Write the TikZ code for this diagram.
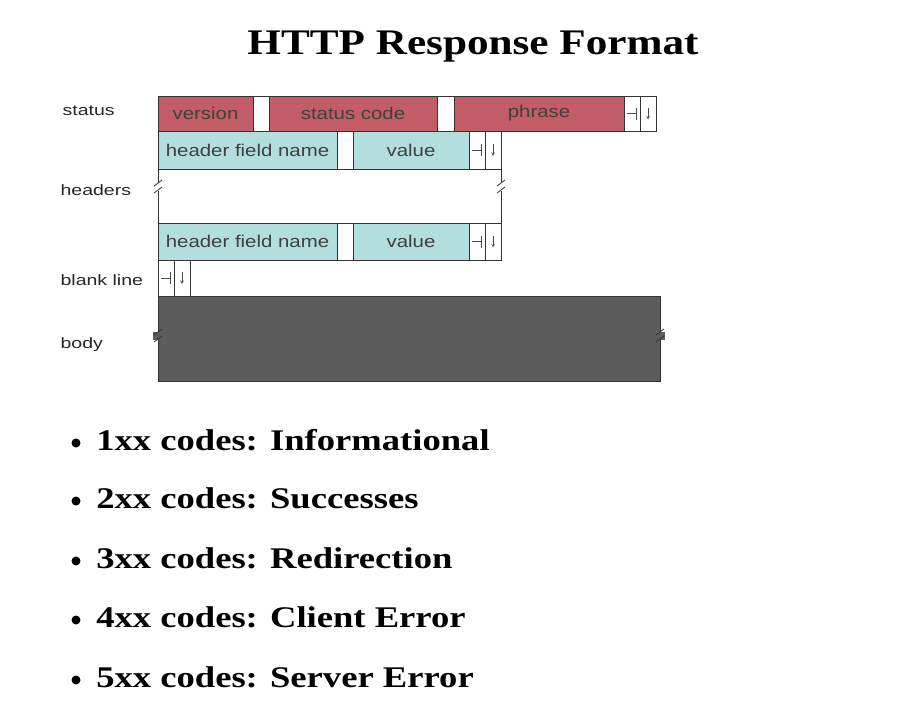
\documentclass[tikz,border=0pt]{standalone}
\usepackage{fontspec}
\setmainfont{Liberation Serif}
\setsansfont{Liberation Sans}
\begin{document}
\begin{tikzpicture}[x=1pt,y=-1pt,
  cell/.style={draw=black!80,line width=0.8pt},
  red/.style={cell,fill=redc},
  teal/.style={cell,fill=tealc},
  wht/.style={cell,fill=white},
  ctext/.style={font=\sffamily\fontsize{17}{17}\selectfont,text=black!75,xscale=1.2},
  lab/.style={font=\sffamily\fontsize{15}{15}\selectfont,anchor=west,text=black!85,xscale=1.3},
  bul/.style={font=\bfseries\fontsize{30}{30}\selectfont,anchor=west,xscale=1.22}]
\definecolor{redc}{HTML}{C25C66}
\definecolor{tealc}{HTML}{B2DEDE}
\definecolor{bodyc}{HTML}{5C5C5C}
\useasboundingbox (0,0) rectangle (916,718);
\node[font=\bfseries\fontsize{36}{36}\selectfont,xscale=1.2] (title) at (473,47) {HTTP Response Format};
\newcommand\crlf[3]{%
  \draw[wht] (#1,#2) rectangle ++(16,#3);
  \draw[wht] (#1+16,#2) rectangle ++(16,#3);
  \draw[black!70,line width=0.6pt] (#1+3,#2+#3/2) -- (#1+12,#2+#3/2) (#1+12,#2+#3/2-6) -- (#1+12,#2+#3/2+6);
  \draw[black!70,line width=0.6pt,->,>=stealth] (#1+24,#2+#3/2-6) -- (#1+24,#2+#3/2+6);}
% status row
\draw[red] (158,96) rectangle (253,131) node[midway,ctext] (ver) {version};
\draw[wht] (253,96) rectangle (269,131);
\draw[red] (269,96) rectangle (437,131) node[midway,ctext] (sc) {status code};
\draw[wht] (437,96) rectangle (454,131);
\draw[red] (454,96) rectangle (624,131) node[midway,ctext] (ph) {phrase};
\crlf{624}{96}{35}
% header rows
\foreach \y/\h in {131/38,223/37}{
  \draw[teal] (158,\y) rectangle (337,\y+\h) node[midway,ctext] {header field name};
  \draw[wht] (337,\y) rectangle (353,\y+\h);
  \draw[teal] (353,\y) rectangle (469,\y+\h) node[midway,ctext] {value};
  \crlf{469}{\y}{\h}
}
\draw[cell] (158,169) -- (158,223) (501,169) -- (501,223);
% blank line
\crlf{158}{260}{36}
% body
\draw[cell,fill=bodyc] (158,296) rectangle (660,381);
% break marks
\foreach \x/\y in {158/187,501/187}{
  \fill[white] (\x-5,\y-4) rectangle (\x+5,\y+4);
  \draw[black!80,line width=0.8pt] (\x-4,\y-1) -- (\x+4,\y-7) (\x-4,\y+6) -- (\x+4,\y);
}
\foreach \x/\y in {158/336,660/336}{
  \fill[bodyc] (\x-5,\y-4) rectangle (\x+5,\y+4);
  \draw[black!80,line width=0.8pt] (\x-4,\y-1) -- (\x+4,\y-7) (\x-4,\y+6) -- (\x+4,\y);
}
% labels
\node[lab] (ls) at (58,111) {status};
\node[lab] (lh) at (56,190) {headers};
\node[lab] (lb) at (56,280) {blank line};
\node[lab] (lbo) at (56,345) {body};
% bullets
\foreach \y/\t [count=\i] in {440/1xx codes: Informational,498/2xx codes: Successes,558/3xx codes: Redirection,617/4xx codes: Client Error,677/5xx codes: Server Error}{
  \fill (76,\y+3) circle (4.5);
  \node[bul] (b\i) at (92,\y) {\t};
}
\end{tikzpicture}
\end{document}
